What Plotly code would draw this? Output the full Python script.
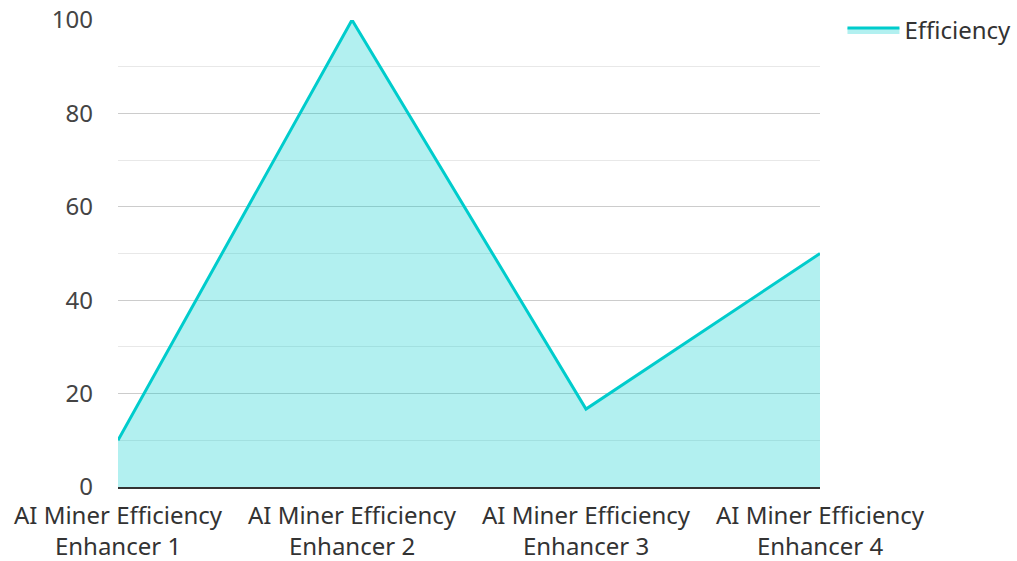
import plotly.graph_objects as go

categories = [
    "AI Miner Efficiency<br>Enhancer 1",
    "AI Miner Efficiency<br>Enhancer 2",
    "AI Miner Efficiency<br>Enhancer 3",
    "AI Miner Efficiency<br>Enhancer 4",
]
efficiency = [10, 100, 16.7, 50]
y_ticks = [0, 20, 40, 60, 80, 100]

fig = go.Figure()
fig.add_trace(go.Scatter(
    x=categories,
    y=efficiency,
    name="Efficiency",
    mode="lines",
    line=dict(color="rgb(0,204,204)", width=3),
    fill="tozeroy",
    fillcolor="rgba(0,204,204,0.3)",
))

fig.update_layout(
    width=1017,
    height=561,
    margin=dict(l=118, r=197, t=20, b=74, autoexpand=False),
    paper_bgcolor="white",
    plot_bgcolor="white",
    font=dict(family="Noto Sans", size=24, color="#333333"),
    showlegend=True,
    legend=dict(
        x=1.032, y=1.026, xanchor="left", yanchor="top",
        font=dict(size=24, color="#333333"),
        bgcolor="rgba(0,0,0,0)",
        itemwidth=52,
    ),
    xaxis=dict(
        type="category",
        range=[0, 3],
        automargin=False,
        showgrid=False,
        showline=True,
        linecolor="#333333",
        linewidth=2,
        ticks="",
        ticklabelstandoff=6,
        tickfont=dict(size=24, color="#333333"),
        zeroline=False,
    ),
    yaxis=dict(
        range=[0, 100],
        tickvals=y_ticks,
        automargin=False,
        showgrid=True,
        gridcolor="#cccccc",
        gridwidth=1,
        zeroline=False,
        showline=False,
        ticks="",
        ticklabelstandoff=24,
        tickfont=dict(size=24, color="#444444"),
        minor=dict(dtick=10, showgrid=True, gridcolor="#e8e8e8", gridwidth=1),
    ),
)

fig.write_html("out.html")
